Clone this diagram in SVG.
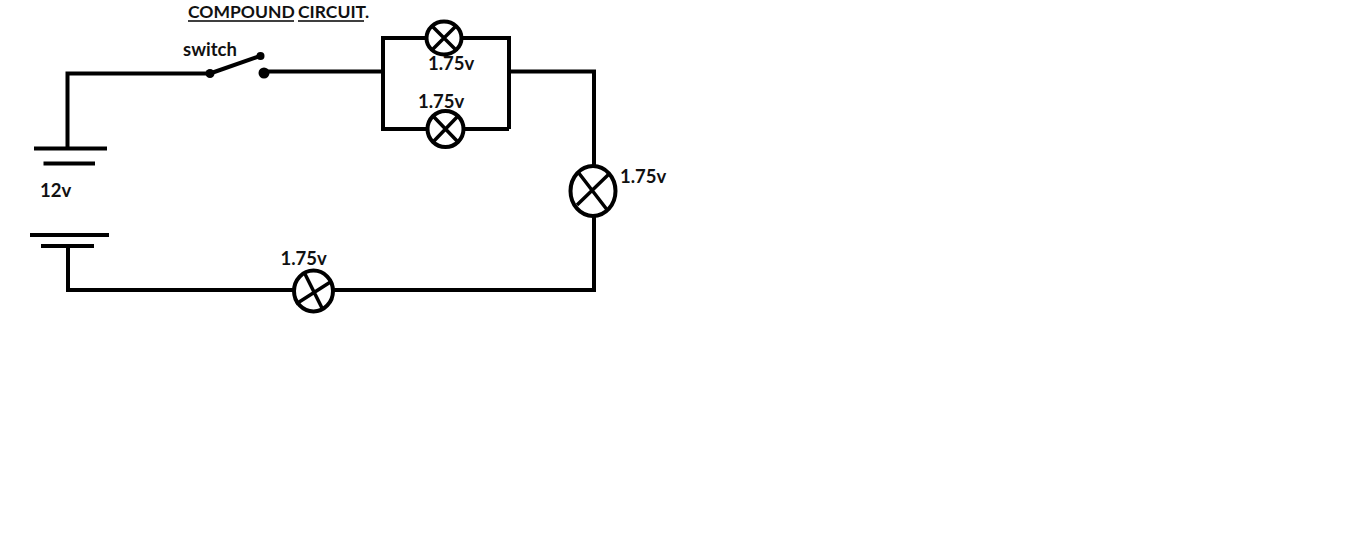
<svg xmlns="http://www.w3.org/2000/svg" width="1360" height="560" viewBox="0 0 1360 560">
<style>
.w{fill:none;stroke:#000;stroke-width:4}
.l{fill:#fff;stroke:#000;stroke-width:4}
.x{fill:none;stroke:#000;stroke-width:3.5}
.d{fill:#000}
text{font-family:"Lato","Open Sans","Liberation Sans",sans-serif;font-weight:700;font-size:18.500px;fill:#111}
</style>
<rect width="1360" height="560" fill="#fff"/>
<g id="connectors">
<path class="w" d="M209 73.500H67.500V148M34 148.500H107M43.500 163.500H95M30 235H109M41 246H94M68 246V290H293M334 290H594V217M594 165V71.500H509M264 71.500H383M509 129V38H463M425 38H383V129H426M464 129H509"/>
<path class="w" d="M210 73.500L260 56" stroke-width="3"/>
</g>
<g id="title"><text x="188" y="18" style="font-size:17.500px">COMPOUND <tspan x="298">CIRCUIT.</tspan></text><path d="M188 21H294M298 21H364" fill="none" stroke="#000" stroke-width="1.500"/></g>
<g id="switch">
<circle class="d" cx="210" cy="73.500" r="4.500"/><circle class="d" cx="260.500" cy="56" r="4"/><circle class="d" cx="264" cy="73" r="5.500"/>
<text x="183" y="55.500">switch</text>
</g>
<g id="battery"><text x="40" y="197">12v</text></g>
<g id="lamp-top">
<ellipse class="l" cx="444" cy="38" rx="17.500" ry="16.500"/><path class="x" d="M432 26L456 50M456 26L432 50"/>
<text x="428" y="70">1.75v</text>
</g>
<g id="lamp-middle">
<ellipse class="l" cx="445.500" cy="129" rx="18" ry="18"/><path class="x" d="M433 116L458 142M458 116L433 142"/>
<text x="418" y="108">1.75v</text>
</g>
<g id="lamp-right">
<ellipse class="l" cx="593" cy="191" rx="22.500" ry="25"/><path class="x" d="M578 172L608 211M609 174L577 205"/>
<text x="620" y="183">1.75v</text>
</g>
<g id="lamp-bottom">
<ellipse class="l" cx="313.500" cy="291" rx="19.500" ry="20.500"/><path class="x" d="M304 272L323 310M332 281L296 304"/>
<text x="280.500" y="265">1.75v</text>
</g>
</svg>
